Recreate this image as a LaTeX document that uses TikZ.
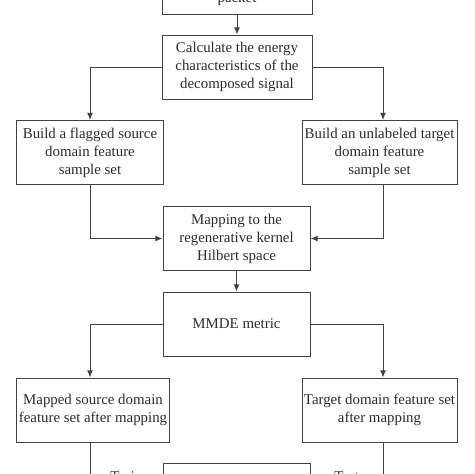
\documentclass[tikz,border=0pt]{standalone}
\usepackage{fontspec}
\setmainfont{Liberation Serif}
\usepackage{tikz}
\usetikzlibrary{arrows.meta, positioning, calc}
\definecolor{linegray}{HTML}{424242}
\definecolor{textgray}{HTML}{2C2C2C}
\tikzset{
    >={Latex[length=6pt, width=5pt]},
    x=0.03cm, y=-0.03cm, semithick,
    box/.style ={rectangle, draw=linegray, line width=0.85pt, align=center,
                 text=textgray, inner sep=1pt, minimum height=1.92cm,
                 font=\fontsize{12.7}{15.4}\selectfont},
    flow/.style = {->, draw=linegray, line width=0.85pt},
    el/.style = {inner sep=3pt, text=textgray, font=\fontsize{12.7}{15.4}\selectfont}
    }

\begin{document}
\begin{tikzpicture}
    \useasboundingbox (0,0) rectangle (474,474);
    \clip (0,0) rectangle (474,474);

    \coordinate (lcol) at (90,0);
    \coordinate (rcol) at (383,0);

    \node (pkt)  at (237,-18)   [box, minimum width=4.5cm] {};
    \node (pkttxt) at (237,-1)  [el, inner sep=0pt] {packet};
    \node (calc) at (237,67)    [box, minimum width=4.5cm]
        {Calculate the energy\\characteristics of the\\decomposed signal};
    \node (src)  at (90,152.5)  [box, minimum width=4.38cm]
        {Build a flagged source\\domain feature\\sample set};
    \node (tgt)  at (379.5,152.5) [box, minimum width=4.65cm]
        {Build an unlabeled target\\domain feature\\sample set};
    \node (map)  at (236.5,238.5) [box, minimum width=4.41cm]
        {Mapping to the\\regenerative kernel\\Hilbert space};
    \node (mmde) at (236.5,324) [box, minimum width=4.41cm] {MMDE metric};
    \node (msrc) at (93,410)    [box, minimum width=4.56cm]
        {Mapped source domain\\feature set after mapping};
    \node (mtgt) at (379.5,410) [box, minimum width=4.65cm]
        {Target domain feature set\\after mapping};
    \node (cls)  at (236.5,486) [box, minimum width=4.41cm, minimum height=1.38cm] {};

    \path[flow] (pkt.south) -- (calc.north);
    \path[flow] (calc.west) -| (src.north);
    \path[flow] (calc.east) -| (tgt.north -| rcol);
    \path[flow] (src.south) |- (map.west);
    \path[flow] (tgt.south -| rcol) |- (map.east);
    \path[flow] (map.south) -- (mmde.north);
    \path[flow] (mmde.west) -| (msrc.north -| lcol);
    \path[flow] (mmde.east) -| (mtgt.north -| rcol);
    \path[flow] (msrc.south -| lcol) |- (cls.west) node[el, pos=0.75, above] {Train};
    \path[flow] (mtgt.south -| rcol) |- (cls.east) node[el, pos=0.75, above] {Test};
\end{tikzpicture}
\end{document}
